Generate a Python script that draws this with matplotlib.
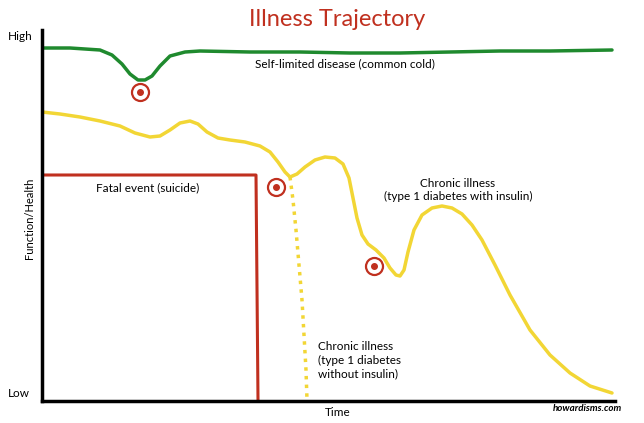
import matplotlib.pyplot as plt
import numpy as np

plt.rcParams['font.family'] = ['Lato', 'DejaVu Sans']

# curves (x = time, y = drop from the top, in picture units)
cold_x = [42, 70, 100, 112, 122, 130, 138, 145, 152, 160, 170, 185, 200, 250, 300, 350, 400, 450, 500, 550, 612]
cold_y = [48, 48, 50, 55, 64, 74, 80, 80, 76, 66, 56, 52, 51, 52, 52, 53, 53, 52, 51, 51, 50]

chronic_x = [42, 60, 80, 100, 120, 135, 150, 160, 170, 180, 190, 198, 207, 218, 230, 245, 260, 270, 278, 285, 290,
             297, 305, 315, 325, 335, 343, 349, 353, 357, 362, 368, 376, 384, 390, 396, 400, 404, 408, 414, 422,
             432, 442, 452, 462, 472, 482, 495, 510, 530, 550, 570, 590, 612]
chronic_y = [112, 114, 117, 121, 126, 133, 137, 136, 130, 123, 121, 124, 132, 138, 140, 142, 146, 152, 162, 172, 177,
             174, 167, 160, 157, 158, 164, 178, 198, 218, 235, 244, 250, 258, 268, 275, 276, 270, 252, 230, 215,
             208, 206, 208, 214, 225, 240, 265, 295, 330, 355, 373, 386, 393]

untreated_x = [290, 293, 296, 299, 302, 304, 306, 307]
untreated_y = [177, 200, 230, 265, 300, 335, 370, 400]

fatal_x = [42, 256, 258]
fatal_y = [175, 175, 400]

event_x = [140, 276, 374]
event_y = [92, 187, 266]

fig = plt.figure(figsize=(6.44, 4.23), dpi=100)
ax = fig.add_axes([42/644, 22/423, 600/644, 371/423])
ax.set_xlim(42, 642)
ax.set_ylim(401, 30)

ax.plot(cold_x, cold_y, color='#1f8a2e', lw=2.5, solid_capstyle='round')
ax.plot(chronic_x, chronic_y, color='#f2d635', lw=2.5, solid_capstyle='round')
ax.plot(untreated_x, untreated_y, color='#f2d635', lw=2.5, ls=(0, (1, 1.5)))
ax.plot(fatal_x, fatal_y, color='#c0301f', lw=2.2)
ax.scatter(event_x, event_y, s=150, facecolor='white', edgecolor='#c0301f', linewidth=1.6, zorder=5)
ax.scatter(event_x, event_y, s=16, color='#c0301f', zorder=6)

for s in ['top', 'right']:
    ax.spines[s].set_visible(False)
ax.spines['left'].set_linewidth(2.5)
ax.spines['bottom'].set_linewidth(2.5)
ax.spines['bottom'].set_bounds(42, 615)
ax.set_xticks([])
ax.set_yticks([])

ax.text(345, 64, 'Self-limited disease (common cold)', ha='center', va='center', fontsize=8.5)
ax.text(96, 188, 'Fatal event (suicide)', ha='left', va='center', fontsize=8.5)
ax.text(458, 190, 'Chronic illness\n(type 1 diabetes with insulin)', ha='center', va='center', fontsize=8.5)
ax.text(318, 360, 'Chronic illness\n(type 1 diabetes\nwithout insulin)', ha='left', va='center', fontsize=8.5,
        linespacing=1.3)

fig.text(337/644, 1 - 19/423, 'Illness Trajectory', color='#c0301f', fontsize=17, ha='center', va='center')
fig.text(8/644, 1 - 36/423, 'High', fontsize=8.5, va='center')
fig.text(8/644, 1 - 393/423, 'Low', fontsize=8.5, va='center')
fig.text(29/644, 1 - 218/423, 'Function/Health', fontsize=8, rotation=90, ha='center', va='center')
fig.text(338/644, 1 - 412/423, 'Time', fontsize=8.5, ha='center', va='center')
fig.text(622/644, 1 - 408/423, 'howardisms.com', fontsize=7, style='italic', weight='bold', ha='right', va='center')

fig.savefig('out.png', dpi=100)
